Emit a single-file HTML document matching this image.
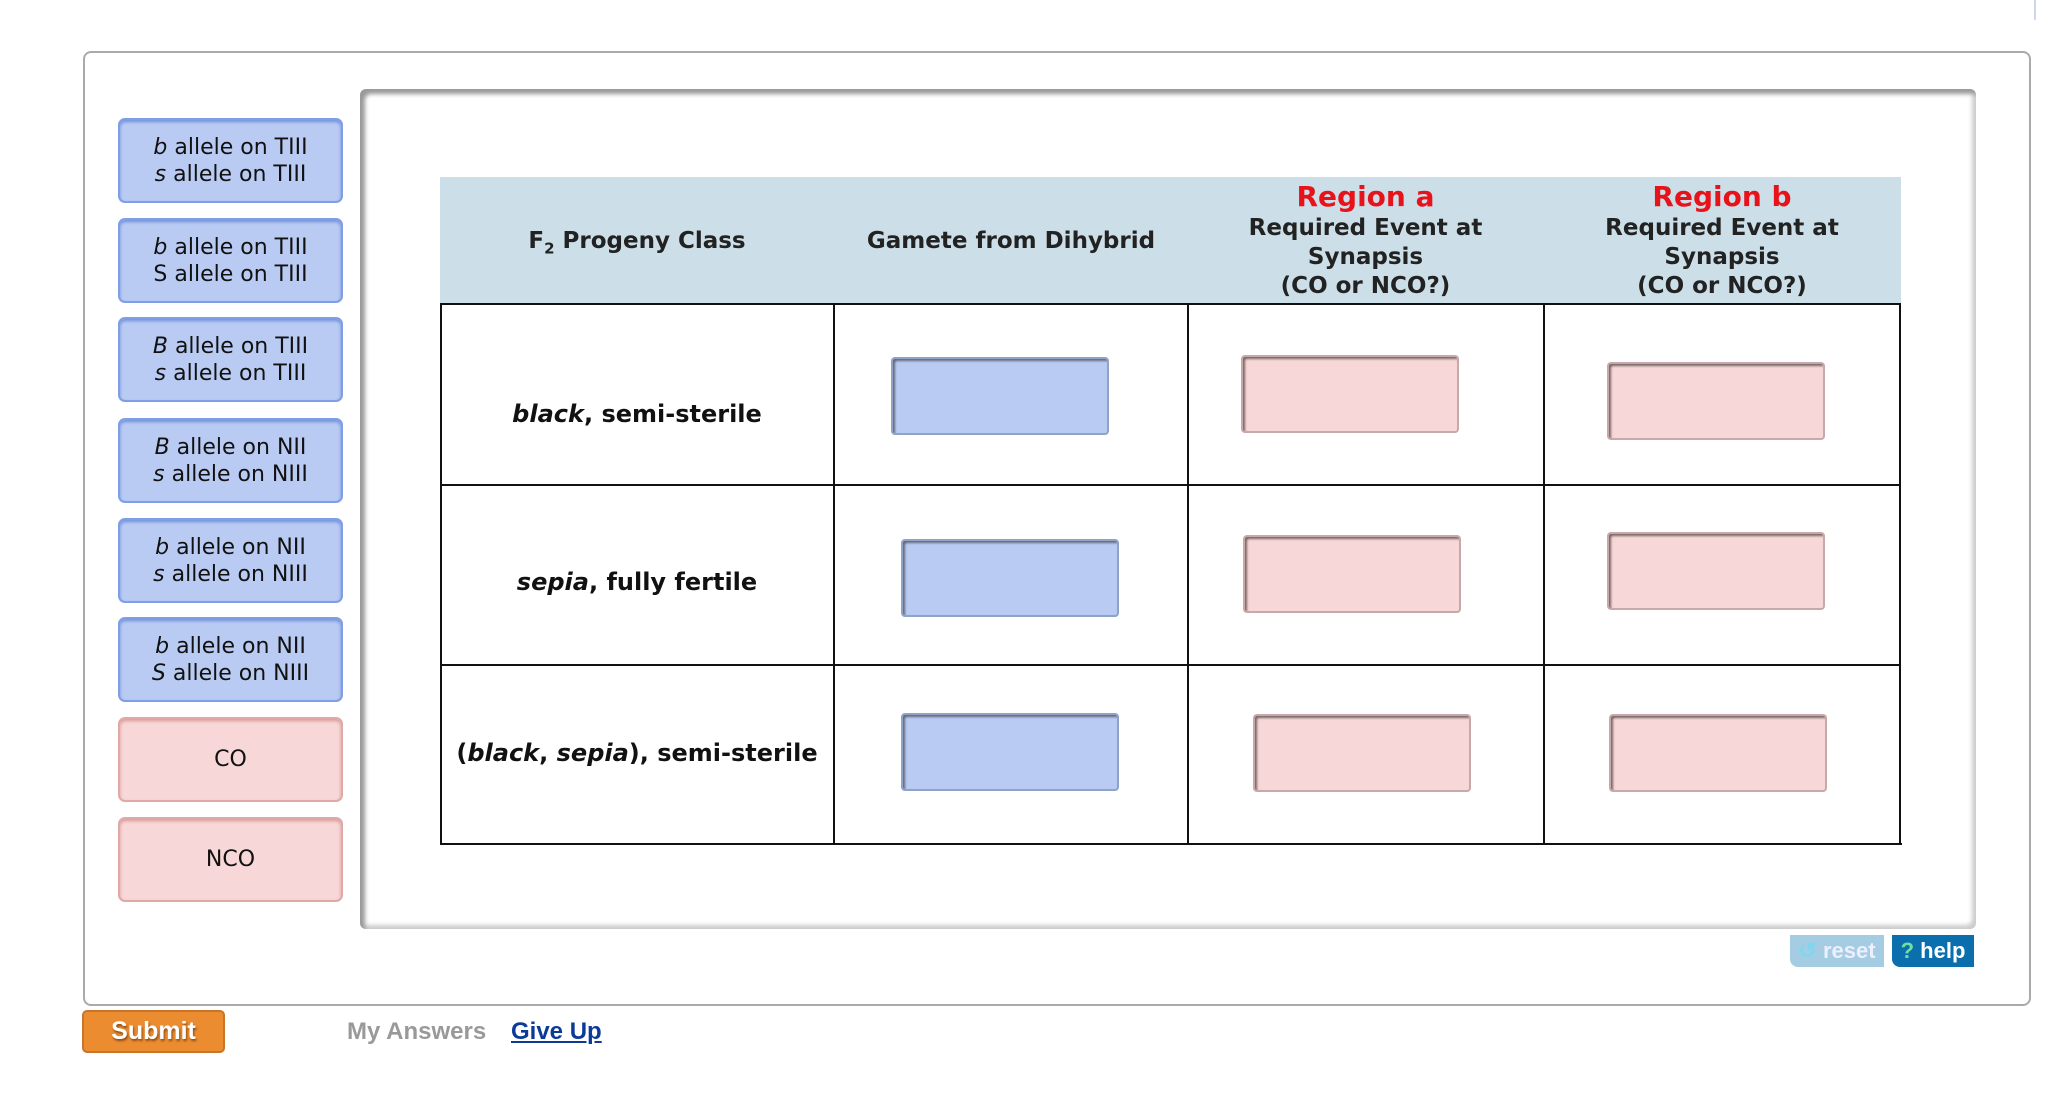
<!DOCTYPE html>
<html><head><style>
body{margin:0;width:2056px;height:1098px;background:#fff;position:relative;overflow:hidden;font-family:"DejaVu Sans",Verdana,sans-serif}
.a{position:absolute}
.outer{left:83px;top:51px;width:1944px;height:951px;border:2px solid #aaa;border-radius:8px}
.inner{left:360px;top:89px;width:1616px;height:840px;border-radius:6px;box-shadow:inset 5px 5px 4px #999,inset -4px -4px 4px #ccc;background:#fff}
.tile{position:absolute;left:118px;width:225px;height:85px;border-radius:7px;box-sizing:border-box;display:flex;align-items:center;justify-content:center;text-align:center;font-size:22px;line-height:27px;color:#111}
.bl{background:#b9cbf3;border:2px solid #7f9ee6;box-shadow:inset 0 2px 3px #6f8fd8}
.pk{background:#f7d7d7;border:2px solid #e2a8a8;box-shadow:inset 0 2px 3px #d89898}
.hdr{left:440px;top:177px;width:1461px;height:127px;background:#ccdfe8}
.ht{position:absolute;text-align:center;font-weight:bold;font-size:23px;line-height:29px;color:#222}
.red{color:#e8131a;font-size:28px}
.ln{position:absolute;background:#111}
.rl{position:absolute;left:440px;width:394px;text-align:center;font-weight:bold;font-size:24px;color:#111}
.box{position:absolute;width:218px;height:78px;box-sizing:border-box;border-radius:4px}
.bb{background:#b9cbf3;border:2px solid #8ea3c8;box-shadow:inset 2px 2px 2px #667}
.pb{background:#f7d7d7;border:2px solid #c8a8a8;box-shadow:inset 2px 2px 2px #766}
</style></head><body>
<div class="a" style="left:2034px;top:0;width:2px;height:20px;background:#cdd8ee"></div>
<div class="a outer"></div>
<div class="a inner"></div>
<div class="tile bl" style="top:118px"><div><i>b</i> allele on TIII<br><i>s</i> allele on TIII</div></div>
<div class="tile bl" style="top:218px"><div><i>b</i> allele on TIII<br>S allele on TIII</div></div>
<div class="tile bl" style="top:317px"><div><i>B</i> allele on TIII<br><i>s</i> allele on TIII</div></div>
<div class="tile bl" style="top:418px"><div><i>B</i> allele on NII<br><i>s</i> allele on NIII</div></div>
<div class="tile bl" style="top:518px"><div><i>b</i> allele on NII<br><i>s</i> allele on NIII</div></div>
<div class="tile bl" style="top:617px"><div><i>b</i> allele on NII<br><i>S</i> allele on NIII</div></div>
<div class="tile pk" style="top:717px">CO</div>
<div class="tile pk" style="top:817px">NCO</div>
<div class="a hdr"></div>
<div class="ht" style="left:440px;width:394px;top:227px">F<sub style="font-size:15px">2</sub> Progeny Class</div>
<div class="ht" style="left:834px;width:354px;top:227px">Gamete from Dihybrid</div>
<div class="ht" style="left:1188px;width:355px;top:182px"><span class="red">Region a</span><br>Required Event at<br>Synapsis<br>(CO or NCO?)</div>
<div class="ht" style="left:1543px;width:358px;top:182px"><span class="red">Region b</span><br>Required Event at<br>Synapsis<br>(CO or NCO?)</div>
<div class="ln" style="left:440px;top:303px;width:1461px;height:2px"></div>
<div class="ln" style="left:440px;top:484px;width:1461px;height:2px"></div>
<div class="ln" style="left:440px;top:664px;width:1461px;height:2px"></div>
<div class="ln" style="left:440px;top:843px;width:1462px;height:2px"></div>
<div class="ln" style="left:440px;top:303px;width:2px;height:542px"></div>
<div class="ln" style="left:833px;top:303px;width:2px;height:542px"></div>
<div class="ln" style="left:1187px;top:305px;width:2px;height:540px"></div>
<div class="ln" style="left:1543px;top:305px;width:2px;height:540px"></div>
<div class="ln" style="left:1899px;top:305px;width:2px;height:540px"></div>
<div class="rl" style="top:400px"><i>black</i>, semi-sterile</div>
<div class="rl" style="top:568px"><i>sepia</i>, fully fertile</div>
<div class="rl" style="top:739px">(<i>black</i>, <i>sepia</i>), semi-sterile</div>
<div class="box bb" style="left:891px;top:357px"></div>
<div class="box pb" style="left:1241px;top:355px"></div>
<div class="box pb" style="left:1607px;top:362px"></div>
<div class="box bb" style="left:901px;top:539px"></div>
<div class="box pb" style="left:1243px;top:535px"></div>
<div class="box pb" style="left:1607px;top:532px"></div>
<div class="box bb" style="left:901px;top:713px"></div>
<div class="box pb" style="left:1253px;top:714px"></div>
<div class="box pb" style="left:1609px;top:714px"></div>
<div class="a" style="left:1790px;top:935px;width:94px;height:32px;background:#a4cde4;border-radius:0 0 0 8px;color:#eef;font:bold 22px 'Liberation Sans',sans-serif;line-height:32px;text-align:center"><span style="color:#7fd6ee">↺</span> reset</div>
<div class="a" style="left:1892px;top:935px;width:82px;height:32px;background:#0b6fae;border-radius:0 0 0 8px;color:#fff;font:bold 22px 'Liberation Sans',sans-serif;line-height:32px;text-align:center"><span style="color:#6fe0a0">?</span> help</div>
<div class="a" style="left:82px;top:1010px;width:143px;height:43px;background:#ec8c30;border:2px solid #c97428;box-sizing:border-box;border-radius:5px;color:#fff;font:bold 25px 'Liberation Sans',sans-serif;line-height:39px;text-align:center;text-shadow:1px 2px 2px #8a4a10">Submit</div>
<div class="a" style="left:347px;top:1018px;color:#999;font:bold 24px 'Liberation Sans',sans-serif">My Answers</div>
<div class="a" style="left:511px;top:1018px;color:#0b3a99;font:bold 24px 'Liberation Sans',sans-serif;text-decoration:underline">Give Up</div>
</body></html>
